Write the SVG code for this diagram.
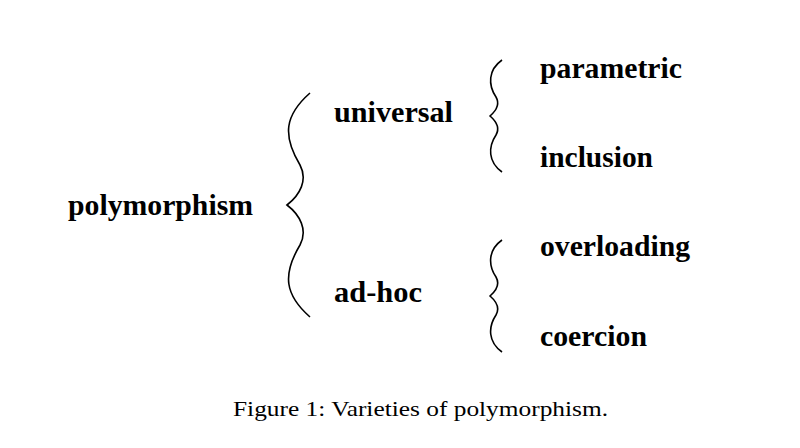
<svg xmlns="http://www.w3.org/2000/svg" width="800" height="448" viewBox="0 0 800 448">
<style>
.t{font-family:"Liberation Serif",serif;font-weight:bold;font-size:29px;fill:#000}
.c{font-family:"Liberation Serif",serif;font-size:22px;fill:#000}
.b{fill:none;stroke:#000;stroke-width:1.6}
</style>
<rect width="800" height="448" fill="#fff"/>
<g id="connectors">
<path class="b" d="M310,93 C285,115 282,135 300,165 C308,180 300,195 287,205 C300,215 308,230 300,245 C282,275 285,295 310,317"/>
<path class="b" d="M502,60 C488,70 488,85 496,97 C500,104 497,110 490,116 C497,122 500,128 496,135 C488,147 488,162 502,172"/>
<path class="b" d="M502,240 C488,250 488,265 496,277 C500,284 497,290 490,296 C497,302 500,308 496,315 C488,327 488,342 502,352"/>
</g>
<g id="polymorphism"><text class="t" x="68" y="215" textLength="185" lengthAdjust="spacingAndGlyphs">polymorphism</text></g>
<g id="universal"><text class="t" x="334" y="122" textLength="119" lengthAdjust="spacingAndGlyphs">universal</text></g>
<g id="adhoc"><text class="t" x="334" y="302" textLength="88" lengthAdjust="spacingAndGlyphs">ad-hoc</text></g>
<g id="parametric"><text class="t" x="540" y="78" textLength="142" lengthAdjust="spacingAndGlyphs">parametric</text></g>
<g id="inclusion"><text class="t" x="540" y="167" textLength="113" lengthAdjust="spacingAndGlyphs">inclusion</text></g>
<g id="overloading"><text class="t" x="540" y="256" textLength="150" lengthAdjust="spacingAndGlyphs">overloading</text></g>
<g id="coercion"><text class="t" x="540" y="346" textLength="107" lengthAdjust="spacingAndGlyphs">coercion</text></g>
<text class="c" x="233" y="416" textLength="375" lengthAdjust="spacingAndGlyphs">Figure 1: Varieties of polymorphism.</text>
</svg>
